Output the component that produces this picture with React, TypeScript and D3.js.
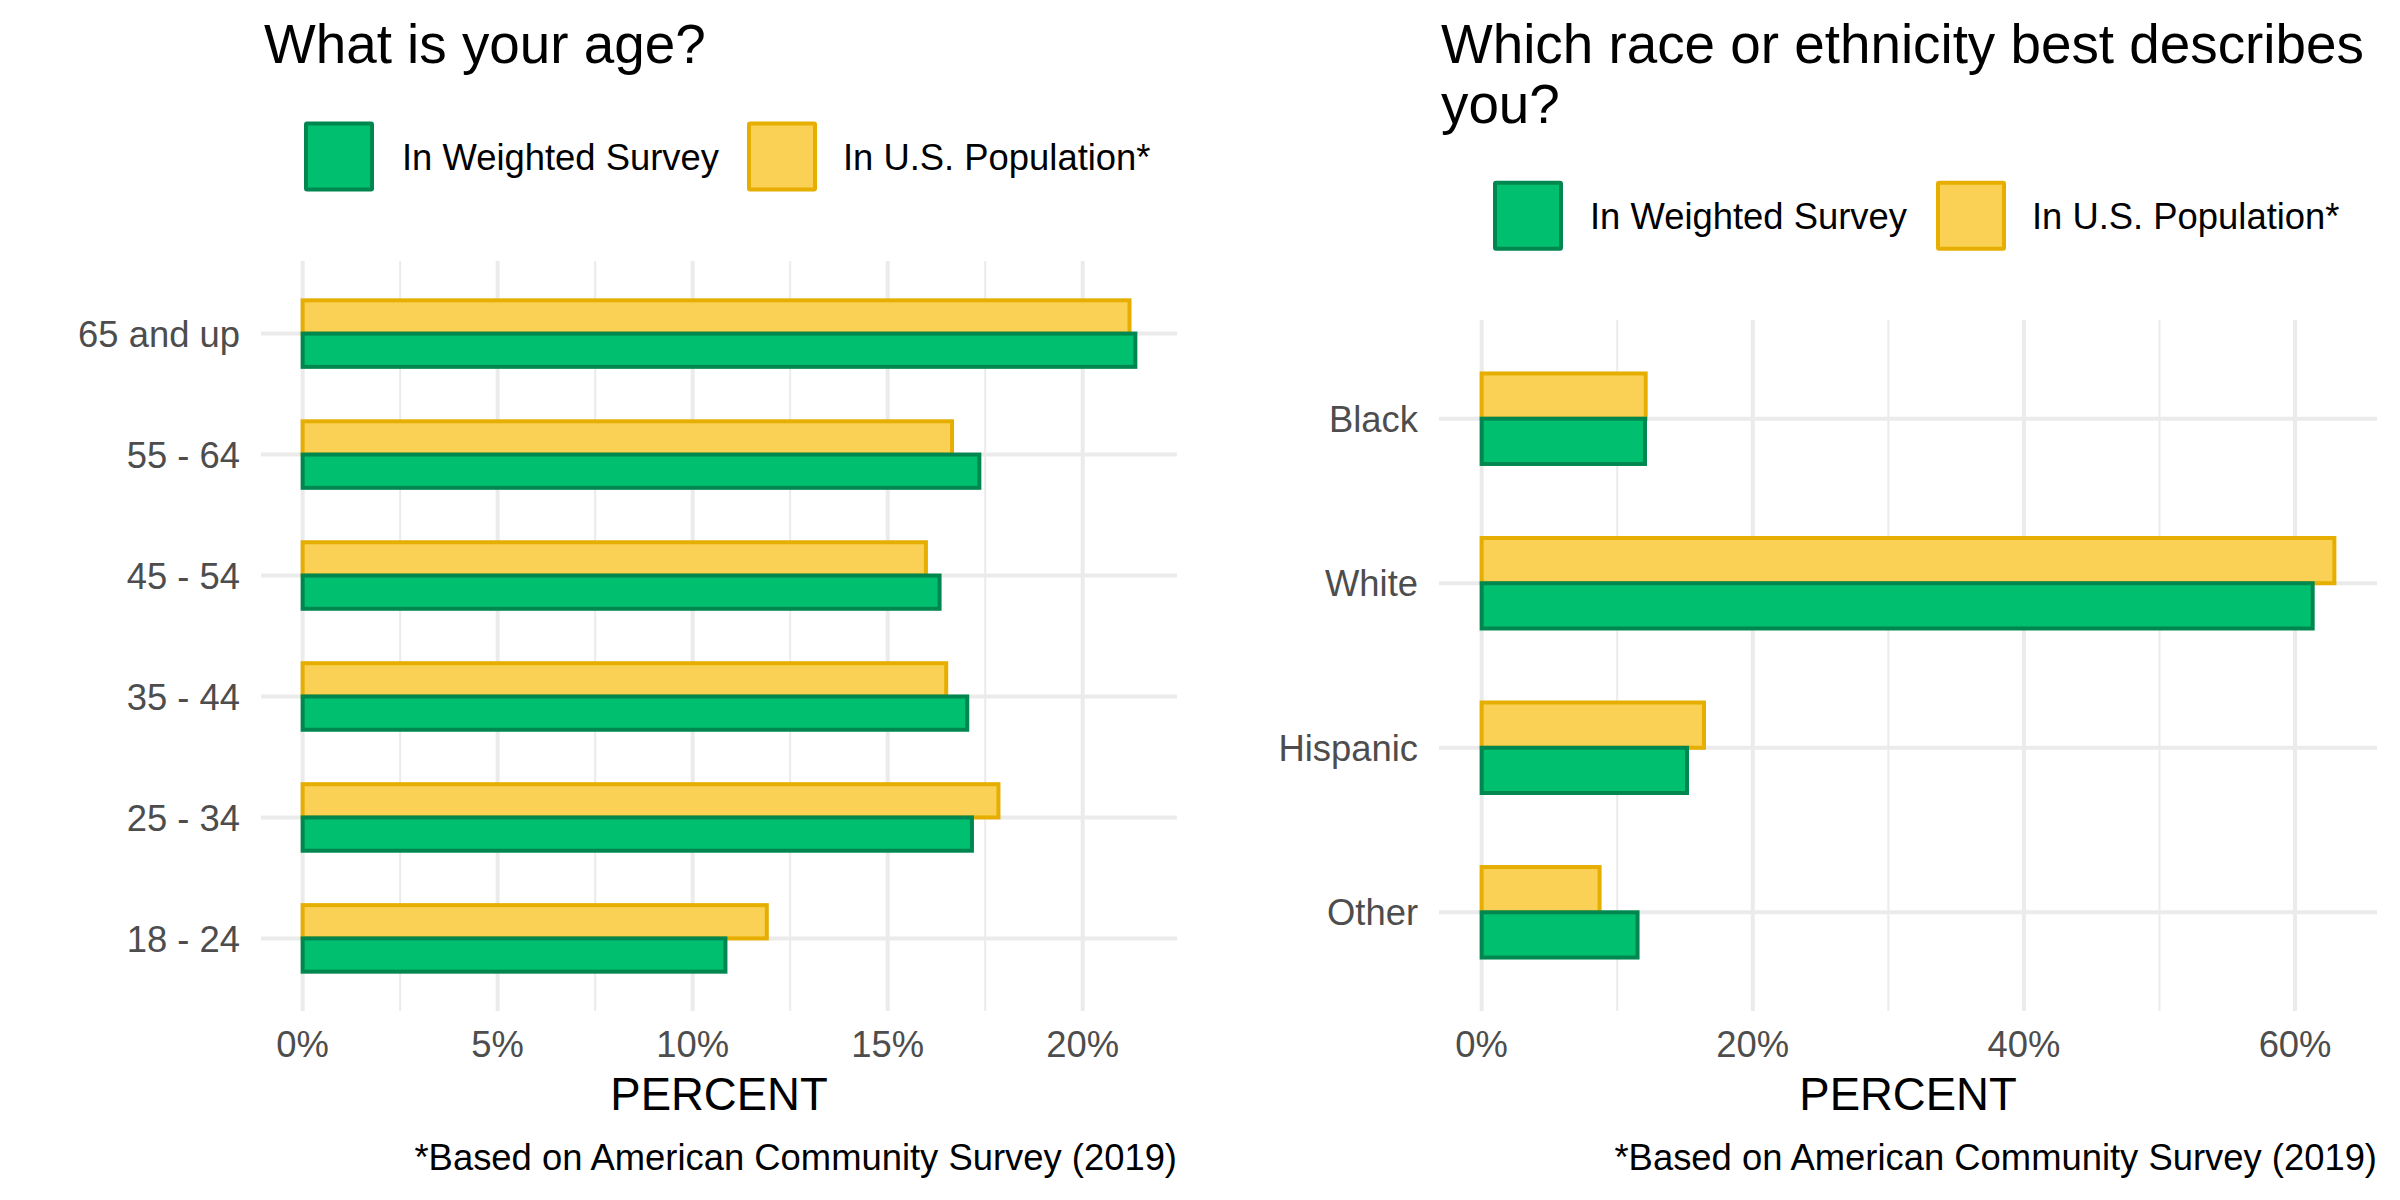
import React from 'react';
import * as d3 from 'd3';

const SERIES = ['In U.S. Population*', 'In Weighted Survey'];
const SERIES_FILL = ['#FBD155', '#00BF6F'];
const SERIES_STROKE = ['#E5AE00', '#00874F'];
const LEGEND_ORDER = [1, 0];

const AGE_GROUPS = ['65 and up', '55 - 64', '45 - 54', '35 - 44', '25 - 34', '18 - 24'];
const AGE_POPULATION = [21.2, 16.65, 15.98, 16.5, 17.84, 11.9];
const AGE_SURVEY = [21.35, 17.35, 16.33, 17.04, 17.16, 10.84];
const AGE_TICKS = [0, 5, 10, 15, 20];
const AGE_MINOR = [2.5, 7.5, 12.5, 17.5];

const RACE_GROUPS = ['Black', 'White', 'Hispanic', 'Other'];
const RACE_POPULATION = [12.1, 62.9, 16.4, 8.7];
const RACE_SURVEY = [12.05, 61.3, 15.15, 11.5];
const RACE_TICKS = [0, 20, 40, 60];
const RACE_MINOR = [10, 30, 50];

const CAPTION = '*Based on American Community Survey (2019)';
const FONT = '"Liberation Sans", Arial, Helvetica, sans-serif';
const TEXT_SIZE = 36.4;

interface PanelProps {
  titleLines: string[];
  titleX: number;
  legendY: number;
  legendX: number[];
  categories: string[];
  population: number[];
  survey: number[];
  ticks: number[];
  minor: number[];
  left: number;
  right: number;
  top: number;
  bottom: number;
}

const Panel = ({ titleLines, titleX, legendY, legendX, categories, population, survey, ticks, minor, left, right, top, bottom }: PanelProps) => {
  const maxVal = d3.max([...population, ...survey]) as number;
  const x = d3.scaleLinear()
    .domain([-0.05 * maxVal, 1.05 * maxVal])
    .range([left, right]);

  // ggplot-like discrete spacing: width 0.55, 0.6 expansion
  const y = d3.scaleBand<string>()
    .domain(categories)
    .range([top, bottom])
    .paddingInner(0.45)
    .paddingOuter(0.325);

  const inner = d3.scaleBand<number>()
    .domain([0, 1])
    .range([0, y.bandwidth()]);

  const values = [population, survey];
  const keySize = 66;

  return (
    <g fontFamily={FONT}>
      {titleLines.map((line, i) => (
        <text key={i} x={titleX} y={63 + i * 59.5} fontSize={54.8} fill="#000">{line}</text>
      ))}

      {LEGEND_ORDER.map((s, i) => (
        <g key={s}>
          <rect x={legendX[i * 2] + 2} y={legendY - keySize / 2} width={keySize} height={keySize}
                fill={SERIES_FILL[s]} stroke={SERIES_STROKE[s]} strokeWidth={4} rx={1} />
          <text x={legendX[i * 2 + 1]} y={legendY} dy="0.36em" fontSize={TEXT_SIZE} fill="#000">{SERIES[s]}</text>
        </g>
      ))}

      {minor.map(t => (
        <line key={'m' + t} x1={x(t)} x2={x(t)} y1={top} y2={bottom} stroke="#EBEBEB" strokeWidth={2} />
      ))}
      {ticks.map(t => (
        <line key={'t' + t} x1={x(t)} x2={x(t)} y1={top} y2={bottom} stroke="#EBEBEB" strokeWidth={4} />
      ))}
      {categories.map(c => (
        <line key={'g' + c} x1={left} x2={right}
              y1={(y(c) as number) + y.bandwidth() / 2} y2={(y(c) as number) + y.bandwidth() / 2}
              stroke="#EBEBEB" strokeWidth={4} />
      ))}

      {categories.map((c, ci) => (
        <g key={'b' + c}>
          {values.map((vals, s) => (
            <rect key={s}
                  x={x(0)}
                  y={(y(c) as number) + (inner(s) as number)}
                  width={x(vals[ci]) - x(0)}
                  height={inner.bandwidth()}
                  fill={SERIES_FILL[s]} stroke={SERIES_STROKE[s]} strokeWidth={4} />
          ))}
        </g>
      ))}

      {categories.map(c => (
        <text key={'l' + c} x={left - 21} y={(y(c) as number) + y.bandwidth() / 2} dy="0.36em"
              textAnchor="end" fontSize={TEXT_SIZE} fill="#4D4D4D">{c}</text>
      ))}
      {ticks.map(t => (
        <text key={'x' + t} x={x(t)} y={1057} textAnchor="middle" fontSize={TEXT_SIZE} fill="#4D4D4D">
          {d3.format('d')(t) + '%'}
        </text>
      ))}

      <text x={(left + right) / 2} y={1110} textAnchor="middle" fontSize={45.5} fill="#000">PERCENT</text>
      <text x={right} y={1170} textAnchor="end" fontSize={TEXT_SIZE} fill="#000">{CAPTION}</text>
    </g>
  );
};

export default function App() {
  return (
    <svg width={2400} height={1200} style={{ position: 'absolute', left: 0, top: 0, background: '#fff' }}>
      <rect width={2400} height={1200} fill="#fff" />
      <Panel
        titleLines={['What is your age?']}
        titleX={264}
        legendY={156.5}
        legendX={[304, 402, 747, 843]}
        categories={AGE_GROUPS}
        population={AGE_POPULATION}
        survey={AGE_SURVEY}
        ticks={AGE_TICKS}
        minor={AGE_MINOR}
        left={261}
        right={1177}
        top={261}
        bottom={1011}
      />
      <Panel
        titleLines={['Which race or ethnicity best describes', 'you?']}
        titleX={1441}
        legendY={215.7}
        legendX={[1493, 1590, 1936, 2032]}
        categories={RACE_GROUPS}
        population={RACE_POPULATION}
        survey={RACE_SURVEY}
        ticks={RACE_TICKS}
        minor={RACE_MINOR}
        left={1439}
        right={2377}
        top={320}
        bottom={1011}
      />
    </svg>
  );
}
